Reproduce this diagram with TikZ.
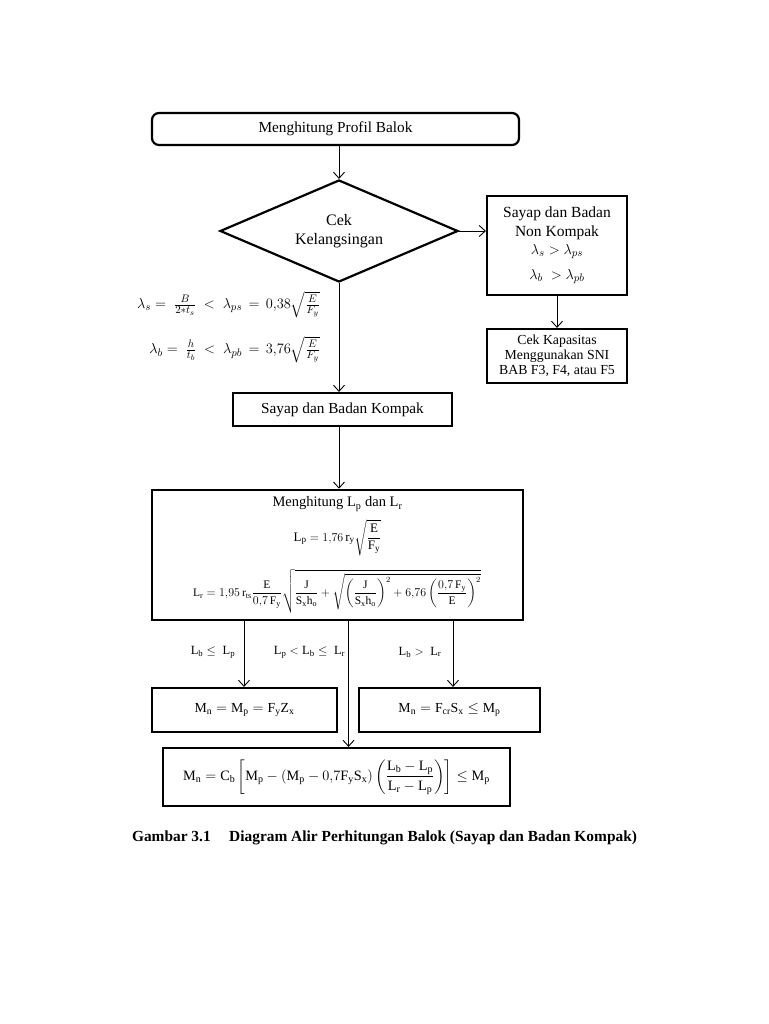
\documentclass[tikz,border=0pt]{standalone}
\usepackage{amsmath}
\usepackage{fontspec}
\setmainfont{Liberation Serif}
\usetikzlibrary{shapes.geometric,arrows.meta}
\begin{document}
\begin{tikzpicture}[x=1pt,y=-1pt,
  box/.style={draw,line width=2.2pt,inner sep=2pt,align=center,font=\fontsize{15.3}{18}\selectfont},
  conn/.style={line width=0.9pt,-{Straight Barb[length=6pt,width=11pt,line width=0.9pt]}},
  lbl/.style={font=\fontsize{12.5}{15}\selectfont,inner sep=0pt}]
\useasboundingbox (0,0) rectangle (768,1024);
\node[box,rounded corners=7pt,minimum width=367pt,minimum height=32pt] (top) at (335.5,129) {Menghitung Profil Balok};
\node[box,diamond,minimum width=238pt,minimum height=102pt,inner sep=0pt] (dia) at (339,231) {};
\node[align=center,inner sep=0pt,font=\fontsize{16}{19}\selectfont] (diat) at (339,231) {Cek\\Kelangsingan};
\node[box,minimum width=140pt,minimum height=99pt,font=\fontsize{15.5}{18.5}\selectfont] (nk) at (557,245.5) {Sayap dan Badan\\Non Kompak\\$\lambda_s > \lambda_{ps}$\\[6pt]$\lambda_b\; > \lambda_{pb}$};
\node[box,minimum width=140pt,minimum height=54pt,font=\fontsize{13.8}{15}\selectfont] (cek) at (557,356) {Cek Kapasitas\\Menggunakan SNI\\BAB F3, F4, atau F5};
\node[box,minimum width=219pt,minimum height=33pt] (kom) at (342.5,409.5) {Sayap dan Badan Kompak};
\node[lbl,anchor=east,font=\fontsize{15.5}{18}\selectfont] (ls) at (320,305) {$\lambda_s =\; \frac{B}{2*t_s} \;<\; \lambda_{ps} \,=\, 0{,}38\sqrt{\frac{E}{F_y}}$};
\node[lbl,anchor=east,font=\fontsize{15.5}{18}\selectfont] (lb) at (320,350) {$\lambda_b =\; \frac{h}{t_b} \;<\; \lambda_{pb} \,=\, 3{,}76\sqrt{\frac{E}{F_y}}$};
\node[box,line width=2.6pt,minimum width=371pt,minimum height=130pt] (big) at (337.5,555) {};
\node[font=\fontsize{14.5}{16}\selectfont,inner sep=0pt] (bt) at (337.5,504) {Menghitung L\textsubscript{p} dan L\textsubscript{r}};
\node[lbl,font=\fontsize{13}{15}\selectfont] (lpf) at (337.5,538) {$\mathrm{L_p} = 1{,}76\,\mathrm{r_y}\sqrt{\dfrac{\mathrm{E}}{\mathrm{F_y}}}$};
\node[lbl,font=\fontsize{11.5}{14}\selectfont] (lrf) at (337,591) {$\mathrm{L_r} = 1{,}95\,\mathrm{r_{ts}}\dfrac{\mathrm{E}}{0{,}7\,\mathrm{F_y}}\sqrt{\dfrac{\mathrm{J}}{\mathrm{S_x h_o}} + \sqrt{\left(\dfrac{\mathrm{J}}{\mathrm{S_x h_o}}\right)^{2} + 6{,}76\left(\dfrac{0{,}7\,\mathrm{F_y}}{\mathrm{E}}\right)^{2}}}$};
\node[box,minimum width=185pt,minimum height=44pt,font=\fontsize{13.8}{16}\selectfont] (mn1) at (244.5,710) {$\mathrm{M_n} = \mathrm{M_p} = \mathrm{F_y Z_x}$};
\node[box,minimum width=181pt,minimum height=44pt,font=\fontsize{13.8}{16}\selectfont] (mn2) at (449.5,710) {$\mathrm{M_n} = \mathrm{F_{cr} S_x} \le \mathrm{M_p}$};
\node[box,minimum width=347pt,minimum height=58pt,font=\fontsize{14.3}{16}\selectfont] (bot) at (336.5,777) {$\mathrm{M_n} = \mathrm{C_b}\left[\mathrm{M_p} - (\mathrm{M_p} - 0{,}7\mathrm{F_y S_x})\left(\dfrac{\mathrm{L_b} - \mathrm{L_p}}{\mathrm{L_r} - \mathrm{L_p}}\right)\right] \le \mathrm{M_p}$};
\node[lbl] (c1) at (213,652) {$\mathrm{L_b} \le\; \mathrm{L_p}$};
\node[lbl] (c2) at (309.5,652) {$\mathrm{L_p} < \mathrm{L_b} \le\; \mathrm{L_r}$};
\node[lbl] (c3) at (420,652) {$\mathrm{L_b} >\; \mathrm{L_r}$};
\node[font=\bfseries\fontsize{15.4}{18}\selectfont,inner sep=0pt] (cap) at (384.5,838) {Gambar 3.1\hspace{1.2em}Diagram Alir Perhitungan Balok (Sayap dan Badan Kompak)};
\coordinate (xa) at (244,0);
\coordinate (xb) at (348.5,0);
\coordinate (xc) at (453,0);
\draw[conn] (top.south -| dia.north) -- (dia.north);
\draw[conn] (dia.east) -- (dia.east -| nk.west);
\draw[conn] (nk.south) -- (cek.north);
\draw[conn] (dia.south) -- (dia.south |- kom.north);
\draw[conn] (dia.south |- kom.south) -- (dia.south |- big.north);
\draw[conn] (xa |- big.south) -- (xa |- mn1.north);
\draw[conn] (xb |- big.south) -- (xb |- bot.north);
\draw[conn] (xc |- big.south) -- (xc |- mn2.north);
\end{tikzpicture}
\end{document}
